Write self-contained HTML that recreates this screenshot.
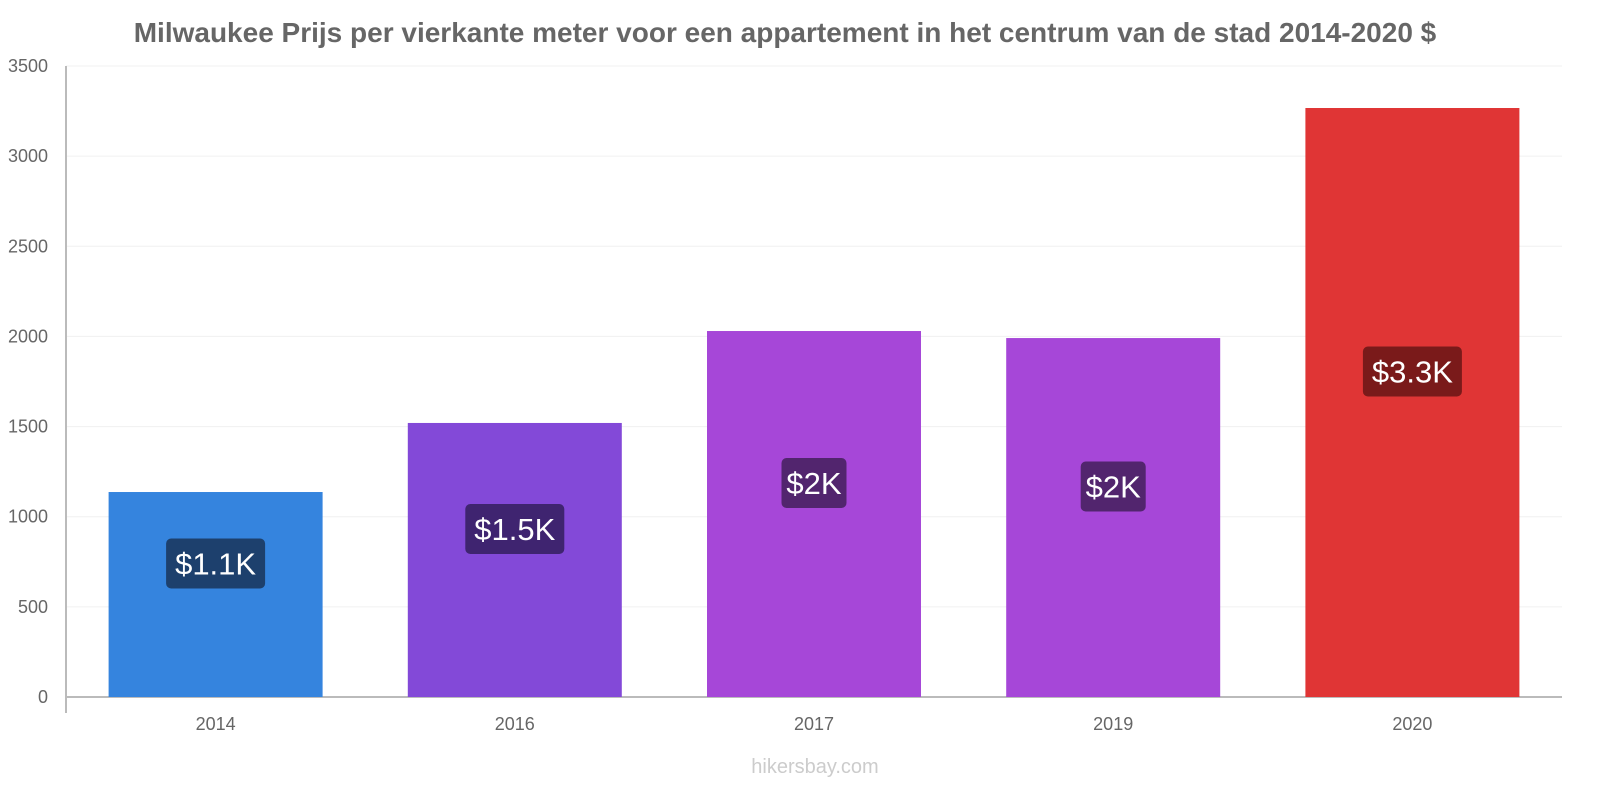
<!DOCTYPE html>
<html><head><meta charset="utf-8"><style>
body{margin:0;background:#fff;width:1600px;height:800px;overflow:hidden;font-family:"Liberation Sans",sans-serif}
</style></head><body>
<svg width="1600" height="800" id="chart">
<text x="785" y="42" text-anchor="middle" font-size="28" font-weight="bold" fill="#666">Milwaukee Prijs per vierkante meter voor een appartement in het centrum van de stad 2014-2020 $</text>
<text x="815" y="773" text-anchor="middle" font-size="20" fill="#ccc">hikersbay.com</text>
</svg>
<script>
const categories=["2014","2016","2017","2019","2020"];
const values=[1137,1520,2030,1991,3267];
const valueLabels=["$1.1K","$1.5K","$2K","$2K","$3.3K"];
const yTicks=[0,500,1000,1500,2000,2500,3000,3500];
const colors=["#3584de","#8349d8","#a647d8","#a647d8","#e03535"];
const labelColors=["#1d406d","#3f2470","#52256e","#52256e","#7a1a1a"];
const NS="http://www.w3.org/2000/svg";
const svg=document.getElementById('chart');
const x0=66,x1=1562,y0=697,yTop=66,yMax=3500;
const y=v=>y0-(v/yMax)*(y0-yTop);
const band=(x1-x0)/categories.length;
const xc=i=>x0+band*(i+0.5);
function mk(t,a){const e=document.createElementNS(NS,t);for(const k in a)e.setAttribute(k,a[k]);svg.appendChild(e);return e;}
yTicks.forEach(t=>{
 const g=mk('line',{x1:x0,x2:x1,y1:y(t),y2:y(t),stroke:t===0?'#bbb':'#f0f0f0','stroke-width':t===0?2:1});
 
 
 const l=mk('text',{x:48,y:y(t)+6,'text-anchor':'end','font-size':18,fill:'#666'});l.textContent=t;
 
 
});
const ax=mk('line',{x1:x0,x2:x0,y1:yTop,y2:713,stroke:'#bbb','stroke-width':2});


categories.forEach((c,i)=>{
 const w=214,cx=xc(i);
 const b=mk('rect',{x:cx-w/2,y:y(values[i]),width:w,height:y0-y(values[i]),fill:colors[i]});
 
 
 const t=mk('text',{x:cx,y:730,'text-anchor':'middle','font-size':18,fill:'#666'});t.textContent=c;
 
 
 const ly=(y(values[i])+y0)/2-31;
 const tw=valueLabels[i].length*17+14;
 const r=mk('rect',{x:cx-tw/2,y:ly-25,width:tw,height:50,rx:5,fill:labelColors[i]});
 
 
 const v=mk('text',{x:cx,y:ly+11,'text-anchor':'middle','font-size':31,fill:'#fff'});v.textContent=valueLabels[i];
 
 
});
</script>
</body></html>
